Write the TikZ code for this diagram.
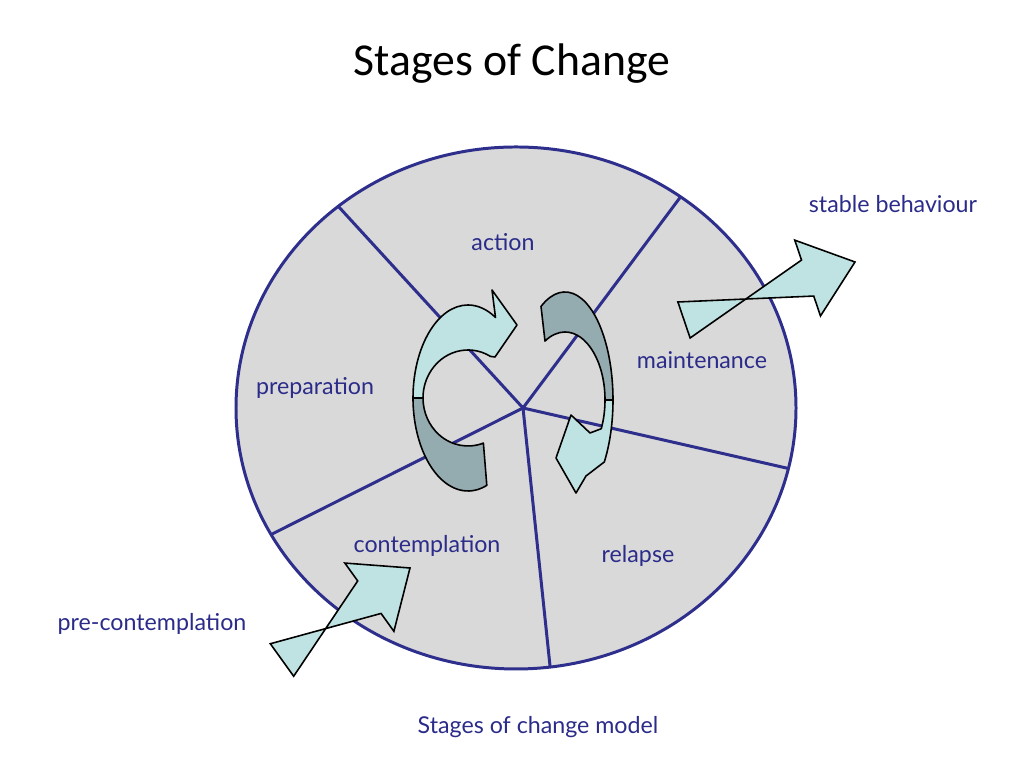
\documentclass[tikz,border=0pt]{standalone}
\usepackage{fontspec}
\setmainfont{Lato}
\newfontfamily\titlefont{Carlito}
\usetikzlibrary{calc}
\definecolor{navy}{HTML}{2E2E8C}
\definecolor{disk}{HTML}{D9D9D9}
\definecolor{lightc}{HTML}{BFE3E3}
\definecolor{darkc}{HTML}{94ABB0}
\definecolor{labc}{HTML}{2B2B8A}
\tikzset{
  lab/.style={text=labc,font=\fontsize{6.6}{8}\selectfont,inner sep=0pt},
  spoke/.style={draw=navy,line width=0.85pt},
  ring/.style={draw=black,line width=0.45pt,line join=round},
  blk/.style={draw=black,fill=lightc,line width=0.45pt,line join=miter}
}
\newcommand{\blockarr}[4]{% tail, tip, half shaft, half head
  \coordinate (H) at ($(#2)!0.5cm!(#1)$);
  \draw[blk] ($(#1)!#3!90:(#2)$) -- ($(H)!#3!-90:(#2)$) -- ($(H)!#4!-90:(#2)$) -- (#2)
    -- ($(H)!#4!90:(#2)$) -- ($(H)!#3!90:(#2)$) -- ($(#1)!#3!-90:(#2)$) -- cycle;}
\begin{document}
\begin{tikzpicture}[x=0.01cm,y=-0.01cm]
\useasboundingbox (0,0) rectangle (1024,768);
\node[font=\titlefont\fontsize{13}{15}\selectfont] (title) at (512,64) {Stages of Change};
\coordinate (O) at (516,408);
\coordinate (C) at (523,408);
\draw[spoke,fill=disk] (O) ellipse [x radius=280,y radius=261];
\foreach \t/\n in {230.6/ul,306/ur,13.4/r,83/b,151/ll}{
  \coordinate (\n) at ($(O)+(\t:280 and 261)$);
  \draw[spoke] (C) -- (\n);
}
% left ring
\coordinate (L) at (468,398);
\draw[ring,fill=darkc] ($(L)+(180:55 and 93)$) arc[start angle=180,end angle=70,x radius=55,y radius=93]
  -- ($(L)+(70:45 and 48)$) arc[start angle=70,end angle=180,x radius=45,y radius=48] -- cycle;
\draw[ring,fill=lightc] ($(L)+(180:55 and 93)$) arc[start angle=180,end angle=300,x radius=55,y radius=93]
  -- (492,290) -- (517,325) -- (495,357) -- ($(L)+(300:45 and 48)$)
  arc[start angle=300,end angle=180,x radius=45,y radius=48] -- cycle;
% right ring
\coordinate (R) at (565,400);
\draw[ring,fill=darkc] ($(R)+(240:48 and 108)$) arc[start angle=240,end angle=360,x radius=48,y radius=108]
  -- ($(R)+(0:40 and 68)$) arc[start angle=360,end angle=240,x radius=40,y radius=68] -- cycle;
\draw[ring,fill=lightc] ($(R)+(0:48 and 108)$) arc[start angle=0,end angle=35,x radius=48,y radius=108]
  -- (586,476) -- (576,493) -- (556,458) -- (571,415) -- (590,433) -- ($(R)+(25:40 and 68)$)
  arc[start angle=25,end angle=0,x radius=40,y radius=68] -- cycle;
% block arrows
\coordinate (pa) at (282,660);
\coordinate (pb) at (410,568);
\blockarr{pa}{pb}{0.2cm}{0.42cm}
\coordinate (sa) at (684,320);
\coordinate (sb) at (855,262);
\blockarr{sa}{sb}{0.19cm}{0.4cm}
% labels
\node[lab] (action) at (503,242) {action};
\node[lab] (maint) at (702,360) {maintenance};
\node[lab] (prep) at (315,388) {preparation};
\node[lab] (cont) at (427,546) {contemplation};
\node[lab] (relapse) at (638,556) {relapse};
\node[lab] (pre) at (152,624) {pre-contemplation};
\node[lab] (stable) at (893,204) {stable behaviour};
\node[lab] (cap) at (538,727) {Stages of change model};
\end{tikzpicture}
\end{document}
